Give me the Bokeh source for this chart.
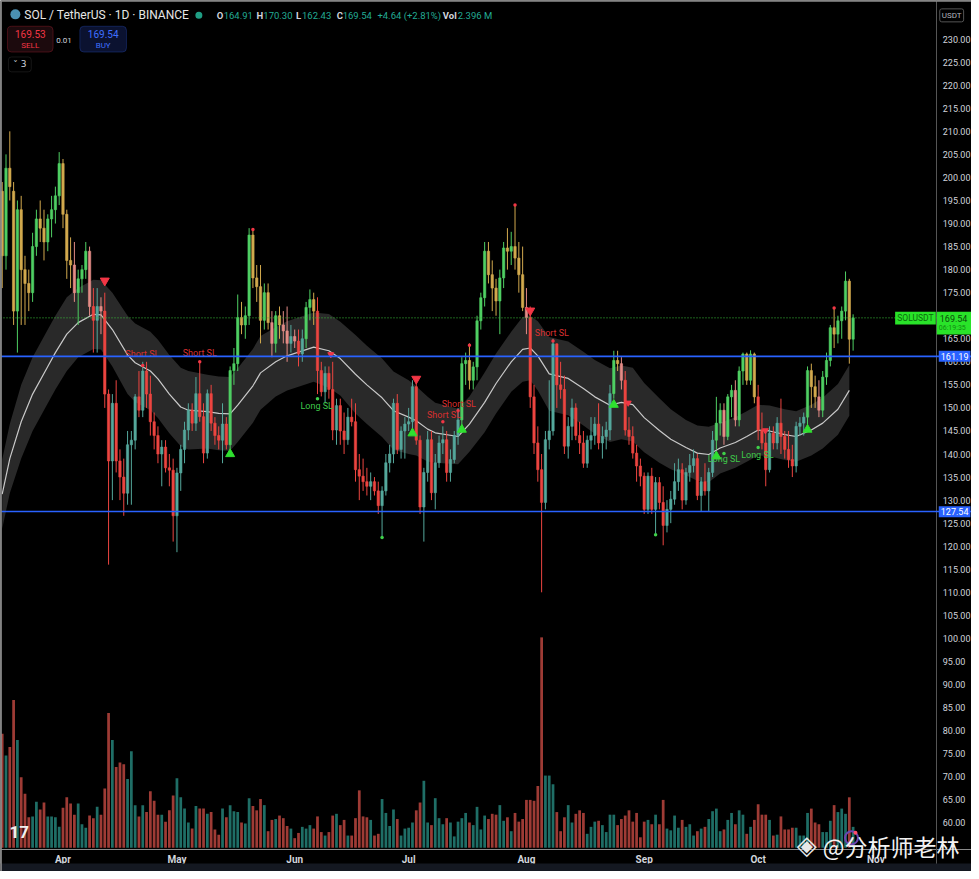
import numpy as np
import pandas as pd
from bokeh.plotting import figure
from bokeh.models import (Range1d, FixedTicker, PrintfTickFormatter, Span, Label,
                          BoxAnnotation, ColumnDataSource)
from bokeh.embed import file_html
from bokeh.resources import INLINE
from bokeh.core.properties import value

# ---------------- data (SOL/USDT daily) ----------------
start_date = "2024-03-16"
month_starts = ["2024-04-01", "2024-05-01", "2024-06-01", "2024-07-01",
                "2024-08-01", "2024-09-01", "2024-10-01", "2024-11-01"]
month_labels = ["Apr", "May", "Jun", "Jul", "Aug", "Sep", "Oct", "Nov"]

opens = [
    197, 183, 202, 197, 171, 193, 180, 177, 175, 185, 191, 189, 186, 191, 193, 196,
    203, 192, 182, 181, 175, 178, 180, 184, 172, 169, 172, 171, 153, 138.5, 151, 138.5, 135, 131.5, 142, 143,
    152.4, 149.5, 158, 153, 147, 144, 140, 141.5, 137, 136.5,
    126.6, 135.9, 141, 145.2, 149.5, 146.7, 153.1, 148.1, 140.2, 153.1, 146.7, 144, 143, 146.5, 142, 158.1,
    159.6, 169.6, 168, 170, 187.5, 178.2, 176.3, 169, 175, 168.5, 164, 170, 168, 166.7, 164,
    165.5, 164.5, 161.7, 165, 171.8, 173.5, 171, 158.1, 153.5, 157.5, 154, 145.2, 150.5, 145, 143.1, 148,
    147, 136.6, 135.2, 134, 133, 134, 132, 128.8, 132, 138.1, 140, 151, 141, 145,
    146.5, 147, 154.6, 143, 128.5, 136, 143.1, 131.6, 138.1, 142.4, 143.1, 136, 138.8, 144, 147.4, 159.6,
    160.3, 156, 158.9, 168.9, 173.9, 184, 178.9, 176, 173.2, 178.2, 184.7, 184, 185, 182.5, 178.9,
    171.8, 169.6, 152.4, 142.4, 136.6, 129.5, 143.1, 145, 163.9, 155, 154, 141.7, 146, 150, 144, 142.4,
    138, 143, 144, 146.5, 142.4, 143.8, 145.2, 153.1, 160.3, 159.6, 156, 145.2, 143.8, 140.2, 137.4,
    135.2, 128, 135.2, 128, 133.8, 129.5, 124.5, 128, 130.2, 134, 136.6, 130, 136, 137.5, 139,
    131, 134, 132, 136, 143, 146.7, 149.5, 143.8, 152.4, 153.8, 147.4, 158, 161.7, 156, 161.7,
    152.4, 145.2, 142.4, 136.6, 144.5, 142.4, 146.7, 143.8, 141, 138.8, 137.4, 146, 146.7,
    148, 158.1, 154.6, 152.4, 149.5, 156.7, 160.3, 167.4, 166, 168.9, 171, 177.5, 164.91]
highs = [
    199, 205, 210, 199, 195, 196, 183, 180, 188, 193, 195, 193, 192, 196, 198, 205.5,
    204, 193, 187, 186, 180, 181, 186, 185, 176, 176, 174, 175, 154, 153, 156, 141, 139, 145, 145, 153,
    158, 160, 160, 157, 149, 146, 143, 143, 140, 139,
    137, 142, 147, 151, 151, 156.7, 160, 151, 154, 155, 148, 146, 151, 148, 159, 163,
    174.6, 173, 172, 189, 189, 181, 181, 177, 177, 171, 171, 172, 171, 172, 168,
    167, 167, 167, 173, 175.7, 175, 174, 160, 159, 159, 160, 152, 152, 149, 150, 152,
    151, 140, 139, 137, 136, 135, 134, 133, 140, 142, 152, 153, 146, 148,
    150, 156, 156, 144, 137, 145, 145, 140, 144, 146, 145, 141, 145, 150, 161, 162,
    164, 160, 170, 175, 186, 186, 182, 178, 180, 186, 189, 188.2, 194, 186, 185,
    176, 172, 155, 146, 140, 145, 156, 165, 164, 160, 157, 148, 152, 151, 147, 145,
    144, 148, 148, 151, 146, 147, 155, 162.4, 162.4, 161, 158, 148, 146, 142, 139,
    136, 136, 137, 135, 135, 133, 130, 132, 138, 139, 138, 137, 140, 141, 140,
    135, 138, 137, 145, 152.4, 151, 151, 153, 155, 156, 159, 162, 162, 162.5, 162,
    155, 149, 145, 146, 146, 148, 152, 145, 145, 142, 147, 148, 149,
    159, 159.6, 157, 156, 158, 162, 168, 171.8, 170, 172, 179.6, 178, 170.30]
lows = [
    176, 180, 195, 168, 162, 168, 168, 171, 173, 183, 186, 182, 184, 187, 190, 194,
    189, 178, 176, 173, 168, 175, 178, 170, 162, 162, 166, 150, 116, 130, 136, 130, 126.6, 129, 129, 141,
    148, 148, 150, 144, 141, 138, 133, 136, 133, 121,
    118.7, 132, 138, 143, 145, 145, 147, 138, 139, 145, 142, 141, 138, 141, 141, 155,
    158, 166, 165, 168, 176, 173, 164, 167, 167, 161, 162, 165, 164, 160, 162,
    163, 159, 160, 163, 169, 168, 153, 152.5, 151, 152, 143, 142, 142, 140, 142, 146,
    134, 130, 132, 131, 130, 131, 127, 122, 131, 136, 138, 140, 139, 139,
    145, 145, 142, 127, 121, 134, 130, 128, 137, 140, 134, 134, 138, 142, 146, 155,
    154, 154, 156, 167, 172, 177, 171, 170, 166, 176, 180, 181, 180, 175, 171,
    166, 150, 140, 134, 110, 128, 141, 144, 150, 152, 140, 139, 143, 143, 140, 137,
    137, 141, 142, 141, 139, 141, 143, 152, 158, 154, 144, 142, 139, 134, 133,
    127, 127, 127, 122.7, 128, 120.2, 123, 125, 129, 132, 128, 129, 134, 136, 130,
    127.5, 131, 127.5, 135, 141, 144, 142, 143, 148, 146, 146, 155, 155, 155, 151,
    143, 141, 133, 136, 141, 141, 140, 139, 137, 135, 136, 144, 144,
    146, 150, 150, 148, 148, 155, 159, 163, 164, 165, 169, 159.6, 162.43]
closes = [
    183, 202, 198, 171, 193, 180, 177, 175, 185, 191, 189, 186, 191, 193, 196, 203,
    192, 182, 181, 175, 178, 180, 184, 172, 169, 172, 171, 153, 138.5, 151, 138.5, 135, 131.5, 142, 143, 152.4,
    149.5, 158, 153, 147, 144, 140, 141.5, 137, 136.5, 126.6,
    135.9, 141, 145.2, 149.5, 146.7, 153.1, 148.1, 140.2, 153.1, 146.7, 144, 143, 146.5, 142, 158.1, 159.6,
    169.6, 168, 170, 187.5, 178.2, 176.3, 169, 175, 168.5, 164, 170, 168, 166.7, 164, 165.5,
    164.5, 161.7, 165, 171.8, 173.5, 171, 158.1, 153.5, 157.5, 154, 145.2, 150.5, 145, 143.1, 148, 147,
    136.6, 135.2, 134, 133, 134, 132, 128.8, 132, 138.1, 140, 151, 141, 145, 146.5,
    147, 154.6, 143, 128.5, 136, 143.1, 131.6, 138.1, 142.4, 143.1, 136, 138.8, 144, 147.4, 159.6, 160.3,
    156, 158.9, 168.9, 173.9, 184, 178.9, 176, 173.2, 178.2, 184.7, 184, 185, 182.5, 178.9, 171.8,
    169.6, 152.4, 142.4, 136.6, 129.5, 143.1, 145, 163.9, 155, 154, 141.7, 146, 150, 144, 142.4, 138,
    143, 144, 146.5, 142.4, 143.8, 145.2, 153.1, 160.3, 159.6, 156, 145.2, 143.8, 140.2, 137.4, 135.2,
    128, 135.2, 128, 133.8, 129.5, 124.5, 128, 130.2, 134, 136.6, 130, 136, 137.5, 139, 131,
    134, 132, 136, 143, 146.7, 149.5, 143.8, 152.4, 153.8, 147.4, 158, 161.7, 156, 161.7, 152.4,
    145.2, 142.4, 136.6, 144.5, 142.4, 146.7, 143.8, 141, 138.8, 137.4, 146, 146.7, 148,
    158.1, 154.6, 152.4, 149.5, 156.7, 160.3, 167.4, 166, 168.9, 171, 177.5, 164.91, 169.54]
volumes = [  # millions of SOL
    13.1, 10.6, 11.6, 17.0, 12.4, 8.1, 6.2, 3.5, 3.6, 5.3, 4.4, 5.2, 3.6, 3.6, 3.5, 2.4,
    4.6, 5.8, 5.1, 3.8, 5.1, 2.7, 2.3, 3.7, 3.4, 4.7, 3.8, 6.8, 15.5, 12.4, 9.3, 9.8, 9.6, 7.9, 11.1, 4.9,
    3.6, 4.9, 4.1, 6.5, 5.4, 3.8, 3.8, 3.0, 4.3, 6.0,
    8.0, 5.8, 4.5, 2.9, 2.2, 4.8, 4.5, 4.5, 3.9, 4.1, 2.1, 1.5, 4.5, 3.5, 4.9, 4.2,
    4.1, 2.9, 2.8, 5.7, 4.8, 4.3, 5.6, 4.9, 1.9, 3.2, 3.3, 3.7, 3.4, 2.5, 2.2,
    1.1, 1.7, 2.4, 2.2, 2.6, 2.2, 3.6, 1.8, 1.4, 1.8, 3.7, 3.9, 2.6, 3.2, 1.4, 1.4,
    3.4, 6.6, 3.6, 3.5, 3.2, 1.4, 1.6, 5.6, 4.0, 2.5, 4.4, 3.3, 1.4, 2.2,
    2.3, 2.9, 4.3, 5.2, 7.7, 2.9, 2.6, 5.7,
    3.4, 2.7, 3.4, 2.9, 1.3, 3.0, 3.4, 4.0, 2.9, 2.6, 4.7, 2.1, 3.7, 3.3, 3.9, 3.8, 4.9, 3.1, 3.5, 1.9,
    4.0, 3.0, 3.3,
    5.5, 5.5, 5.4, 7.1, 24.2, 8.3, 8.3, 7.3, 4.1, 1.9, 3.5, 4.9, 2.9, 3.9, 4.3, 4.0,
    1.6, 2.4, 3.0, 3.1, 2.6, 1.8, 3.8, 3.8, 2.6, 3.3, 3.7, 4.3, 3.0, 4.0, 1.2,
    3.0, 3.2, 2.7, 3.8, 2.7, 5.5, 2.2, 2.0, 3.7, 2.3, 3.2, 2.4, 2.7, 1.4, 1.9,
    2.2, 2.4, 3.3, 4.2, 4.5, 1.9, 2.1, 3.2, 4.0, 2.7, 4.3, 3.8, 1.6, 2.4, 3.2,
    5.0, 3.8, 3.8, 3.2, 1.4, 1.5, 3.6, 2.1, 2.1, 2.3, 2.3, 1.4, 1.4,
    4.0, 4.5, 2.9, 2.7, 1.8, 1.8, 3.1, 4.9, 4.1, 4.5, 3.9, 5.8, 2.4]

# moving-average line and its band (day = days from Apr 1)
ma_day = [-16, -14, -11, -8, -4, -2, 1, 4, 8, 10, 13, 17, 19, 23, 25, 28, 31, 33, 38, 41,
          44, 46, 50, 52, 56, 59, 62, 66, 70, 73, 77, 80, 84, 87, 91, 93, 96, 98, 104, 107,
          111, 114, 118, 121, 123, 125, 128, 131, 133, 137, 140, 144, 147, 150, 153, 157, 160, 164, 167, 170,
          173, 177, 180, 183, 186, 190, 193, 197, 200, 204, 207]
ma_val = [131.3, 139.0, 147.0, 153.0, 159.0, 162.0, 166.0, 168.5, 170.3, 170.2,
          167.0, 161.5, 159.8, 158.0, 156.3, 153.0, 150.2, 149.5, 149.2, 148.8,
          148.7, 150.6, 154.8, 157.6, 160.0, 161.3, 162.1, 163.2, 162.4, 160.7,
          157.3, 155.0, 152.2, 149.4, 148.0, 147.2, 145.4, 144.6, 143.8, 146.5,
          151.2, 155.3, 160.0, 162.7, 163.0, 161.3, 157.4, 156.8, 156.4, 154.2,
          152.4, 150.6, 151.2, 150.7, 147.9, 145.1, 143.2, 141.4, 140.2, 139.9,
          141.3, 142.5, 143.8, 145.2, 145.0, 144.2, 143.8, 145.2, 146.7, 149.7, 153.8]
band_hw = [7.5, 7.5, 8, 8, 8, 8, 8, 7.5, 7.5, 7.5,
           8, 8.5, 8.5, 8.5, 8.5, 8.5, 8.5, 8.5, 8, 8,
           8, 8, 8, 8, 7.5, 7.5, 7.5, 7.5, 8, 8,
           8.5, 8.5, 8.5, 8.5, 8, 7.5, 7, 6.5, 6, 6,
           6.5, 6.5, 6.5, 7, 7, 7.5, 8, 8, 8, 8,
           8, 8, 8, 8, 7.5, 7, 6.5, 6, 6, 6,
           5.5, 5.5, 5.5, 5.5, 5.5, 5.5, 5.5, 5.5, 5.5, 5.5, 5.5]

# signals
short_day, short_price = [11, 93, 123], [177.6, 156.3, 171.1]
mini_day, mini_price = [70.5, 148.8, 184.9], [161.6, 151.1, 145.1]
long_day, long_price = [44, 92, 105, 145, 172, 196], [140.0, 144.5, 145.3, 150.7, 139.5, 145.3]
rdot_day = [21, 36, 50, 100, 104, 107, 119, 129, 203]
rdot_price = [159.2, 160.0, 188.7, 147.0, 149.4, 163.6, 194.0, 164.5, 171.7]
gdot_day = [67, 84, 156, 174, 183]
gdot_price = [152.0, 121.9, 122.5, 140.1, 141.4]
sl_text = ["Short SL", "Short SL", "Long SL", "Short SL", "Short SL", "Short SL", "Long SL", "Long SL"]
sl_day = [20.9, 36.0, 66.8, 100.3, 104.2, 128.7, 174.0, 182.8]
sl_price = [161.7, 161.9, 150.5, 148.5, 150.9, 166.2, 138.9, 139.7]
sl_kind = ["s", "s", "l", "s", "s", "s", "l", "l"]

level_hi, level_lo, last_price = 161.19, 127.54, 169.54
price_ticks = list(range(60, 231, 5))

assert len(opens) == len(highs) == len(lows) == len(closes) == len(volumes)

# ---------------- derived ----------------
dates = pd.date_range(start_date, periods=len(closes), freq="D")
base = pd.Timestamp("2024-04-01")
days = np.array([(d - base).days for d in dates], dtype=float)
month_days = [(pd.Timestamp(m) - base).days for m in month_starts]
o = np.array(opens, float); c = np.array(closes, float)
h = np.array(highs, float); l = np.array(lows, float)
ma_here = np.interp(days, ma_day, ma_val)
hw_here = np.interp(days, ma_day, band_hw)

GREEN, TEAL, YELLOW, PINK, RED = "#4fcf63", "#55a89c", "#d2a94e", "#e48c86", "#ec4540"
ccol = []
for oo, cc, m, w in zip(o, c, ma_here, hw_here):
    if cc >= oo:
        ccol.append(GREEN if cc > m + w else TEAL)
    else:
        ccol.append(YELLOW if cc > m + w else (PINK if cc > m else RED))
vcol = ["#1f6e66" if cc >= oo else "#9e3b35" for oo, cc in zip(o, c)]

# ---------------- figure ----------------
# reference-pixel helpers (layout only): 3.83 px per day, 4.652 px per USDT
def DX(px):
    return (px - 63) / 3.83

def PY(py):
    return 230 - (py - 39) / 4.652

W, H = 971, 871
p = figure(width=W, height=H, x_range=Range1d(DX(0), DX(979)), y_range=Range1d(PY(879), PY(0)),
           output_backend="svg", toolbar_location=None, y_axis_location="right",
           background_fill_color="#000000", border_fill_color="#000000",
           min_border_left=0, min_border_top=0, min_border_right=0, min_border_bottom=0)
p.outline_line_color = None
p.grid.visible = False
VPX = 0.114  # million SOL per reference pixel
p.extra_y_ranges = {"vol": Range1d((855 - 879) * VPX, 855 * VPX)}

# bottom status strip
p.add_layout(BoxAnnotation(left=DX(0), right=DX(979), top=PY(871), bottom=PY(879),
                           fill_color="#141821", fill_alpha=1, line_color=None))

# band + MA
band_lo = [m - w for m, w in zip(ma_val, band_hw)]
band_hi = [m + w for m, w in zip(ma_val, band_hw)]
p.varea(x=ma_day, y1=band_lo, y2=band_hi, fill_color="#292929", fill_alpha=1.0)
p.line(ma_day, ma_val, line_color="#c9c9c9", line_width=1.2)

# volume
p.vbar(x=days, top=volumes, bottom=0, width=0.72, fill_color=vcol, line_color=None,
       y_range_name="vol")

# candles
src = ColumnDataSource(dict(x=days, o=o, h=h, l=l, c=c,
                            top=np.maximum(o, c), bot=np.minimum(o, c), col=ccol))
p.segment(x0="x", y0="l", x1="x", y1="h", line_color="col", line_width=1, source=src)
p.vbar(x="x", top="top", bottom="bot", width=0.62, fill_color="col", line_color="col",
       line_width=0.6, source=src)

# horizontal levels
p.add_layout(Span(location=last_price, dimension="width", line_color="#3cc43c",
                  line_dash="1 2", line_width=1))
for lvl in (level_hi, level_lo):
    p.add_layout(Span(location=lvl, dimension="width", line_color="#2962ff", line_width=1.6))

# signals
p.scatter(short_day, short_price, marker="inverted_triangle", size=9,
          fill_color="#f23645", line_color="#f23645")
p.scatter(mini_day, mini_price, marker="inverted_triangle", size=6,
          fill_color="#f23645", line_color="#f23645")
p.scatter(long_day, long_price, marker="triangle", size=9,
          fill_color="#2fe02f", line_color="#2fe02f")
p.scatter(rdot_day, rdot_price, marker="circle", size=3.5, fill_color="#f23645", line_color=None)
p.scatter(gdot_day, gdot_price, marker="circle", size=3.5, fill_color="#3fd04a", line_color=None)
sl_col = ["#d93030" if k == "s" else "#3fc94a" for k in sl_kind]
p.text(x=sl_day, y=sl_price, text=sl_text, text_color=sl_col, text_font=value("Roboto"),
       text_font_size="9px", text_align="center", text_baseline="middle")

# axes: drawn at fixed locations so that the price scale sits inside the canvas
for ax in (p.yaxis[0], p.xaxis[0]):
    ax.major_tick_out = 0
    ax.major_tick_in = 0
    ax.minor_tick_out = 0
    ax.minor_tick_in = 0
    ax.major_tick_line_color = None
    ax.minor_tick_line_color = None
p.yaxis.fixed_location = DX(944)
p.yaxis.ticker = FixedTicker(ticks=price_ticks)
p.yaxis.formatter = PrintfTickFormatter(format="%.2f")
p.yaxis.major_label_text_color = "#d1d4dc"
p.yaxis.major_label_text_font = "Roboto"
p.yaxis.major_label_text_font_size = "9px"
p.yaxis.axis_line_color = "#555555"
p.yaxis.major_label_standoff = 6

p.xaxis.fixed_location = PY(857)
p.xaxis.ticker = FixedTicker(ticks=month_days)
p.xaxis.major_label_overrides = {d: t for d, t in zip(month_days, month_labels)}
p.xaxis.major_label_text_color = "#d1d4dc"
p.xaxis.major_label_text_font = "Roboto"
p.xaxis.major_label_text_font_style = "bold"
p.xaxis.major_label_text_font_size = "10px"
p.xaxis.axis_line_color = "#8a8a8a"
p.xaxis.major_label_standoff = 4

# window edges of the screenshot
p.add_layout(Span(location=PY(0.6), dimension="width", line_color="#8c8c8c", line_width=1.5))
p.add_layout(Span(location=DX(0.6), dimension="height", line_color="#8c8c8c", line_width=1.5))


def lab(px, py, text, color, size, align="left", style="normal", font="Roboto", **kw):
    p.add_layout(Label(x=DX(px), y=PY(py), text=text, text_color=color,
                       text_font_size=f"{size}px", text_align=align, text_baseline="middle",
                       text_font=font, text_font_style=style, **kw))

# header
p.scatter([DX(15)], [PY(14)], marker="circle", size=10, fill_color="#4a8fb0", line_color=None)
lab(24, 15, "SOL / TetherUS · 1D · BINANCE", "#e6e6e6", 12)
p.scatter([DX(200)], [PY(15)], marker="circle", size=7, fill_color="#1f9e84", line_color=None)
TXT = "#d1d4dc"; VAL = "#22ab94"
segs = [(218, "O", TXT), (225, "164.91", VAL), (258, "H", TXT), (265, "170.30", VAL),
        (298, "L", TXT), (304, "162.43", VAL), (339, "C", TXT), (345, "169.54", VAL),
        (380, "+4.64 (+2.81%)", VAL), (446, "Vol", TXT), (461, "2.396 M", VAL)]
for sx, t, col in segs:
    lab(sx, 15, t, col, 9.5, style="bold" if col == TXT else "normal")

p.add_layout(BoxAnnotation(left=DX(7), right=DX(53), top=PY(26), bottom=PY(52),
                           fill_color="#1c0a0d", fill_alpha=1, line_color="#c9283c", line_width=1,
                           border_radius=4))
lab(30, 34, "169.53", "#f23645", 10, align="center")
lab(30, 45, "SELL", "#f23645", 8, align="center")
lab(64, 40, "0.01", "#d1d4dc", 8, align="center")
p.add_layout(BoxAnnotation(left=DX(80), right=DX(127), top=PY(26), bottom=PY(52),
                           fill_color="#0b1230", fill_alpha=1, line_color="#2f5bd8", line_width=1,
                           border_radius=4))
lab(103.5, 34, "169.54", "#3f6fff", 10, align="center")
lab(103.5, 45, "BUY", "#3f6fff", 8, align="center")
p.add_layout(BoxAnnotation(left=DX(8), right=DX(31), top=PY(57), bottom=PY(72),
                           fill_color="#000000", fill_alpha=1, line_color="#4a4a4a", line_width=1,
                           border_radius=3))
lab(19.5, 64.5, "˅ 3", "#d1d4dc", 9, align="center", font="DejaVu Sans")

# price-scale tags
lab(947, 15, "USDT", "#b2b5be", 8, border_line_color="#555555", padding=2, border_radius=2)
p.add_layout(BoxAnnotation(left=DX(944), right=DX(979), top=PY(314), bottom=PY(337),
                           fill_color="#29e329", fill_alpha=1, line_color=None))
p.add_layout(BoxAnnotation(left=DX(902), right=DX(943), top=PY(314), bottom=PY(327),
                           fill_color="#29e329", fill_alpha=1, line_color=None))
lab(922.5, 320.5, "SOLUSDT", "#0b6a0b", 8.5, align="center")
lab(947, 320.5, "169.54", "#0b4a0b", 9)
lab(946, 330.5, "06:19:35", "#128a12", 7)
lab(946, 359, "161.19", "#ffffff", 9, background_fill_color="#2962ff", padding=2)
lab(946, 516, "127.54", "#ffffff", 9, background_fill_color="#2962ff", padding=2)

# logos / watermark
lab(9, 839, "17", "#f0f0f0", 17, style="bold")
p.scatter([DX(858)], [PY(845)], marker="circle", size=13, fill_color=None,
          line_color="#6c44b0", line_width=2)
p.scatter([DX(862)], [PY(840)], marker="circle", size=4, fill_color="#ff4d6d", line_color=None)
lab(813, 852, "◈", "#e8e8e8", 26, align="center", font="DejaVu Sans")
lab(829, 853, "@分析师老林", "#f2f2f2", 23, font="Noto Sans CJK SC")

open("out.html", "w").write(file_html(p, INLINE))
